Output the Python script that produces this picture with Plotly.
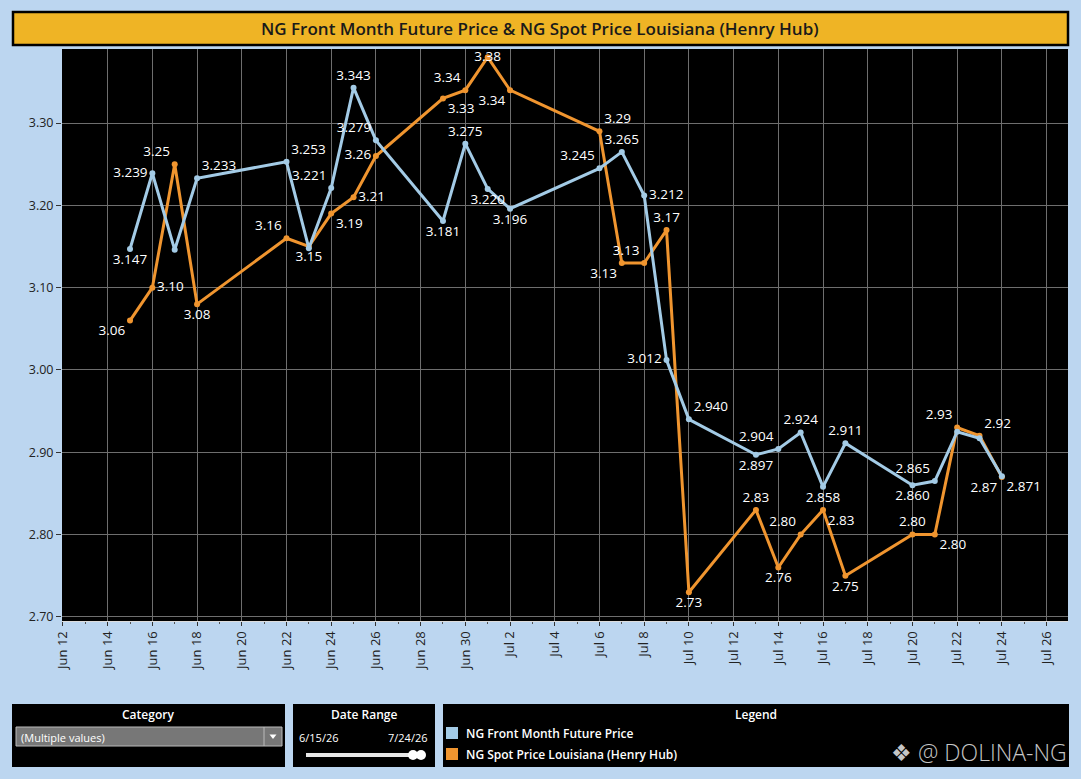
import plotly.graph_objects as go

# ---------------- data ----------------
dates = ["2026-06-15", "2026-06-16", "2026-06-17", "2026-06-18", "2026-06-22", "2026-06-23",
         "2026-06-24", "2026-06-25", "2026-06-26", "2026-06-29", "2026-06-30", "2026-07-01",
         "2026-07-02", "2026-07-06", "2026-07-07", "2026-07-08", "2026-07-09", "2026-07-10",
         "2026-07-13", "2026-07-14", "2026-07-15", "2026-07-16", "2026-07-17", "2026-07-20",
         "2026-07-21", "2026-07-22", "2026-07-23", "2026-07-24"]

future_price = [3.147, 3.239, 3.146, 3.233, 3.253, 3.148, 3.221, 3.343, 3.279, 3.181, 3.275, 3.220,
                3.196, 3.245, 3.265, 3.212, 3.012, 2.940, 2.897, 2.904, 2.924, 2.858, 2.911, 2.860,
                2.865, 2.925, 2.917, 2.871]

spot_price = [3.06, 3.10, 3.25, 3.08, 3.16, 3.15, 3.19, 3.21, 3.26, 3.33, 3.34, 3.38,
              3.34, 3.29, 3.13, 3.13, 3.17, 2.73, 2.83, 2.76, 2.80, 2.83, 2.75, 2.80,
              2.80, 2.93, 2.92, 2.87]

# which future labels are visible (Tableau hides overlapping ones)
future_label_shown = [True, True, False, True, True, False, True, True, True, True, True, True,
                      True, True, True, True, True, True, True, True, True, True, True, True,
                      True, False, False, True]

y_ticks = [2.70, 2.80, 2.90, 3.00, 3.10, 3.20, 3.30]

series_names = ["NG Front Month Future Price", "NG Spot Price Louisiana (Henry Hub)"]
title_text = "NG Front Month Future Price & NG Spot Price Louisiana (Henry Hub)"

# ---------------- styles ----------------
future_pos = ["bottom center", "middle left", "top center", "top right", "top right", "top center",
              "top left", "top center", "top left", "bottom center", "top center", "bottom center",
              "bottom center", "top left", "top center", "middle right", "middle left", "top right",
              "bottom center", "top left", "top center", "bottom center", "top center", "bottom center",
              "top left", "top center", "top center", "bottom right"]

spot_pos = ["bottom left", "middle right", "top left", "bottom center", "top left", "bottom center",
            "bottom right", "middle right", "middle left", "bottom right", "top left", "middle center",
            "bottom left", "top right", "bottom left", "top left", "top center", "bottom center",
            "top center", "bottom center", "top left", "bottom right", "bottom center", "top center",
            "bottom right", "top left", "top right", "bottom left"]

BLUE = "#a3cbe6"
ORANGE = "#f0952f"
PAGE = "#bcd6f0"
TITLE_BG = "#efb425"
FONT = "Open Sans"
AXIS_TXT = "#222222"

W, H = 1081, 779
L, R, T, B = 62, 1068, 49, 621


def px(x):
    return (x - L) / (R - L)


def py(y):
    return (B - y) / (B - T)


future_text = [f"{v:.3f}" if s else "" for v, s in zip(future_price, future_label_shown)]
spot_text = [f"{v:.2f}" for v in spot_price]

fig = go.Figure()

fig.add_trace(go.Scatter(
    x=dates, y=spot_price, mode="lines+markers+text", name=series_names[1],
    line=dict(color=ORANGE, width=3), marker=dict(color=ORANGE, size=6),
    text=spot_text, textposition=spot_pos,
    textfont=dict(color="white", size=13.5, family=FONT),
    cliponaxis=False, hoverinfo="skip", showlegend=False))

fig.add_trace(go.Scatter(
    x=dates, y=future_price, mode="lines+markers+text", name=series_names[0],
    line=dict(color=BLUE, width=3), marker=dict(color=BLUE, size=6),
    text=future_text, textposition=future_pos,
    textfont=dict(color="white", size=13.5, family=FONT),
    cliponaxis=False, hoverinfo="skip", showlegend=False))

shapes = []
annotations = []

# title bar
shapes.append(dict(type="rect", xref="paper", yref="paper",
                   x0=px(13), x1=px(1068), y0=py(45), y1=py(12),
                   fillcolor=TITLE_BG, line=dict(color="black", width=2.5), layer="above"))
annotations.append(dict(xref="paper", yref="paper", x=px(540), y=py(29), text=title_text,
                        showarrow=False, xanchor="center", yanchor="middle",
                        font=dict(family=FONT, size=17, color="#1a1a1a", weight=600)))

# bottom panels
panel_y0, panel_y1 = py(767), py(704)
for x0, x1 in [(12, 285), (293, 435), (443, 1069)]:
    shapes.append(dict(type="rect", xref="paper", yref="paper", x0=px(x0), x1=px(x1),
                       y0=panel_y0, y1=panel_y1, fillcolor="black", line=dict(width=0)))

head_font = dict(family=FONT, size=12, color="white", weight=600)
for cx, txt in [(148, "Category"), (364, "Date Range"), (756, "Legend")]:
    annotations.append(dict(xref="paper", yref="paper", x=px(cx), y=py(714), text=txt,
                            showarrow=False, xanchor="center", yanchor="middle", font=head_font))

# dropdown
shapes.append(dict(type="rect", xref="paper", yref="paper", x0=px(16), x1=px(282),
                   y0=py(746), y1=py(727), fillcolor="#777777", line=dict(color="#bbbbbb", width=1)))
shapes.append(dict(type="line", xref="paper", yref="paper", x0=px(264), x1=px(264),
                   y0=py(746), y1=py(727), line=dict(color="#bbbbbb", width=1)))
shapes.append(dict(type="path", xref="paper", yref="paper",
                   path=f"M {px(269.5)} {py(734.5)} L {px(276.5)} {py(734.5)} L {px(273)} {py(739)} Z",
                   fillcolor="white", line=dict(width=0)))
annotations.append(dict(xref="paper", yref="paper", x=px(19), y=py(737), text="(Multiple values)",
                        showarrow=False, xanchor="left", yanchor="middle",
                        font=dict(family=FONT, size=11, color="white")))

# date range slider
annotations.append(dict(xref="paper", yref="paper", x=px(297), y=py(737), text="6/15/26",
                        showarrow=False, xanchor="left", yanchor="middle",
                        font=dict(family=FONT, size=11, color="white")))
annotations.append(dict(xref="paper", yref="paper", x=px(430), y=py(737), text="7/24/26",
                        showarrow=False, xanchor="right", yanchor="middle",
                        font=dict(family=FONT, size=11, color="white")))
shapes.append(dict(type="line", xref="paper", yref="paper", x0=px(306), x1=px(418),
                   y0=py(755), y1=py(755), line=dict(color="#e8e8e8", width=4)))
shapes.append(dict(type="circle", xref="paper", yref="paper", x0=px(408), x1=px(418),
                   y0=py(760), y1=py(750), fillcolor="white", line=dict(width=0)))
shapes.append(dict(type="circle", xref="paper", yref="paper", x0=px(416), x1=px(426),
                   y0=py(760), y1=py(750), fillcolor="white", line=dict(width=0)))

# legend items
for i, (name, col) in enumerate(zip(series_names, [BLUE, ORANGE])):
    yc = 733 + 21 * i
    shapes.append(dict(type="rect", xref="paper", yref="paper", x0=px(446), x1=px(458),
                       y0=py(yc + 6), y1=py(yc - 6), fillcolor=col, line=dict(width=0)))
    annotations.append(dict(xref="paper", yref="paper", x=px(464), y=py(yc), text=name,
                            showarrow=False, xanchor="left", yanchor="middle",
                            font=dict(family=FONT, size=12, color="white", weight=600)))

# watermark
annotations.append(dict(xref="paper", yref="paper", x=px(1069), y=py(752), text="❖ @ DOLINA-NG",
                        showarrow=False, xanchor="right", yanchor="middle",
                        font=dict(family=FONT, size=23, color="rgba(235,235,235,0.85)", weight=300)))

fig.update_layout(
    width=W, height=H,
    margin=dict(l=L, r=W - R, t=T, b=H - B),
    paper_bgcolor=PAGE, plot_bgcolor="black",
    font=dict(family=FONT, color=AXIS_TXT),
    shapes=shapes, annotations=annotations,
    showlegend=False,
    xaxis=dict(
        type="date", range=["2026-06-11 23:00", "2026-07-26 23:00"],
        tick0="2026-06-12", dtick=2 * 86400000, tickformat="%b %-d", tickangle=-90,
        showgrid=True, gridcolor="#6e6e6e", gridwidth=1,
        ticks="outside", ticklen=4, tickcolor="#333333",
        minor=dict(dtick=86400000, ticks="outside", ticklen=2, tickcolor="#555555", showgrid=False),
        showline=True, linecolor="#dddddd", linewidth=1,
        tickfont=dict(family=FONT, size=13, color=AXIS_TXT, weight=500), zeroline=False),
    yaxis=dict(
        range=[2.695, 3.39], tickvals=y_ticks, tickformat=".2f",
        showgrid=True, gridcolor="#6e6e6e", gridwidth=1,
        ticks="outside", ticklen=5, tickcolor="#333333",
        tickfont=dict(family=FONT, size=12.5, color=AXIS_TXT, weight=500), zeroline=False),
)

fig.write_html("out.html", config={"displayModeBar": False},
               post_script="document.body.style.margin='0';")
